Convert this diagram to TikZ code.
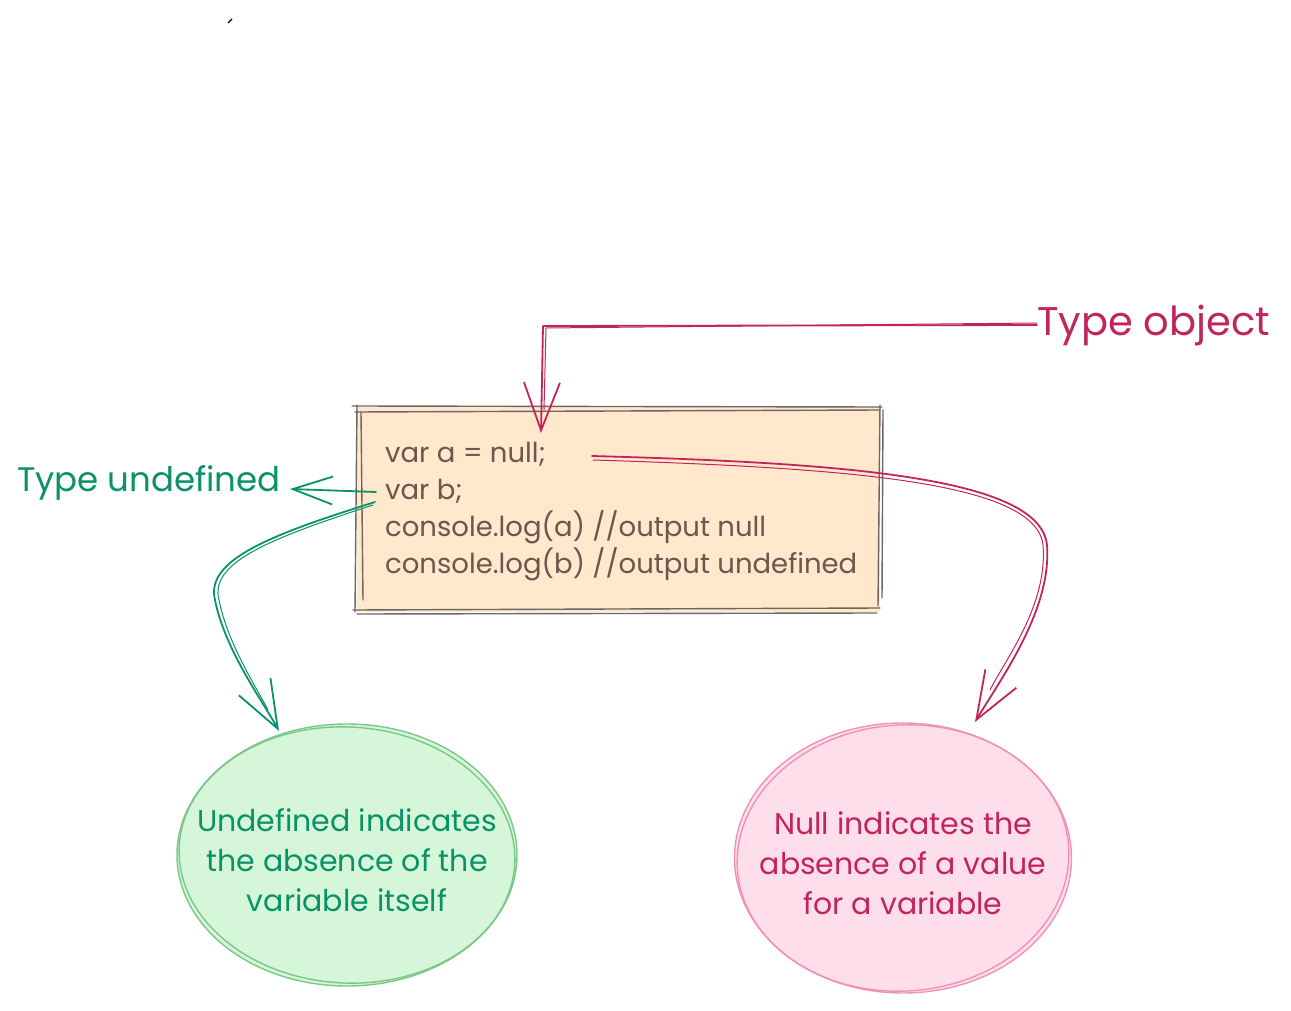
\documentclass[tikz,border=0pt]{standalone}
\usepackage{fontspec}
\setmainfont{Poppins}
\usetikzlibrary{arrows.meta,shapes.geometric}
\definecolor{codebg}{HTML}{FFE8CC}
\definecolor{codeline}{HTML}{6E6662}
\definecolor{codetext}{HTML}{6B5650}
\definecolor{grn}{HTML}{099268}
\definecolor{grnfill}{HTML}{D6F6D9}
\definecolor{grnline}{HTML}{7CC68A}
\definecolor{rd}{HTML}{C2255C}
\definecolor{pkfill}{HTML}{FFDEEB}
\definecolor{pkline}{HTML}{EE93B6}
\tikzset{
  sketch/.style={line width=1.4pt, line cap=round},
  conn/.style={line width=1.8pt, line cap=round, line join=round},
  barb/.style={-{Straight Barb[length=48pt,width=36pt,line width=1.8pt]}},
  smallbarb/.style={-{Straight Barb[length=40pt,width=28pt,line width=1.8pt]}},
  codefont/.style={font=\fontsize{27.5}{37}\selectfont, text=codetext},
  bubble/.style={ellipse, inner sep=0pt, outer sep=0pt, line width=1.4pt},
  bubblefont/.style={font=\fontsize{30}{40}\selectfont, align=center, inner sep=0pt},
}
\begin{document}
\begin{tikzpicture}[x=1pt,y=-1pt]
\useasboundingbox (0,0) rectangle (1291,1011);
% tiny stray mark
\draw[line width=1.2pt] (228,23) -- (232,19);

% code box
\node[fill=codebg, minimum width=523pt, minimum height=205pt, inner sep=0pt] (box) at (618.5,509) {};
\draw[codeline, sketch] (352,406) -- (882,407);
\draw[codeline, sketch] (355,412) -- (880,410);
\draw[codeline, sketch] (357,405) -- (355,612);
\draw[codeline, sketch] (361,412) -- (363,600);
\draw[codeline, sketch] (353,610) -- (880,608);
\draw[codeline, sketch] (357,614) -- (877,613);
\draw[codeline, sketch] (880,405) -- (878,606);
\draw[codeline, sketch] (883,410) -- (882,598);
\node[codefont, anchor=west, align=left, inner sep=0pt] (code) at (385,512)
  {var a = null;\\var b;\\console.log(a) //output null\\console.log(b) //output undefined};

% labels
\node[text=rd, font=\fontsize{40}{44}\selectfont, anchor=west, inner sep=0pt] (tobj) at (1037,325) {Type object};
\node[text=grn, font=\fontsize{34}{38}\selectfont, anchor=east, inner sep=0pt] (tund) at (281,483) {Type undefined};

% ellipses
\node[bubble, draw=grnline, fill=grnfill, minimum width=340pt, minimum height=262pt] (undef) at (347,855) {};
\draw[grnline, sketch] (347,855) ellipse [x radius=168, y radius=128, rotate=-3];
\node[bubblefont, text=grn] (undeftext) at ([yshift=-5pt]undef.center) {Undefined indicates\\the absence of the\\variable itself};
\node[bubble, draw=pkline, fill=pkfill, minimum width=337pt, minimum height=270pt] (nul) at (903,858) {};
\draw[pkline, sketch] (903,858) ellipse [x radius=166, y radius=133, rotate=4];
\node[bubblefont, text=rd] (nultext) at ([yshift=-5pt]nul.center) {Null indicates the\\absence of a value\\for a variable};

% anchor points on the code lines
\coordinate (aline) at (592,456);
\coordinate (blineA) at (376,492);
\coordinate (blineB) at (375,502);
\coordinate (nulltip) at (541,433);
\coordinate (undtip) at (279,731);
\coordinate (nultip) at (975,722);

% connectors
\draw[rd, conn, barb] (tobj.west) -- (543,326) -- (nulltip);
\draw[rd, line width=1pt] ([yshift=2pt]tobj.west) -- (546,328) -- (544,410);
\draw[rd, conn, barb] (aline) .. controls (850,463) and (1040,478) .. (1047,545)
  .. controls (1052,610) and (1000,680) .. (nultip);
\draw[rd, line width=1pt] (593,460) .. controls (850,468) and (1036,482) .. (1043,545)
  .. controls (1048,605) and (1005,660) .. (990,690);
\draw[grn, conn, smallbarb] (blineA) -- ([yshift=-6pt]tund.east -| 290,0);
\draw[grn, conn, barb] (blineB) .. controls (270,535) and (205,560) .. (215,600)
  .. controls (225,650) and (262,700) .. (undtip);
\draw[grn, line width=1pt] (373,505) .. controls (272,538) and (209,562) .. (219,600)
  .. controls (228,645) and (258,690) .. (268,710);
\end{tikzpicture}
\end{document}
